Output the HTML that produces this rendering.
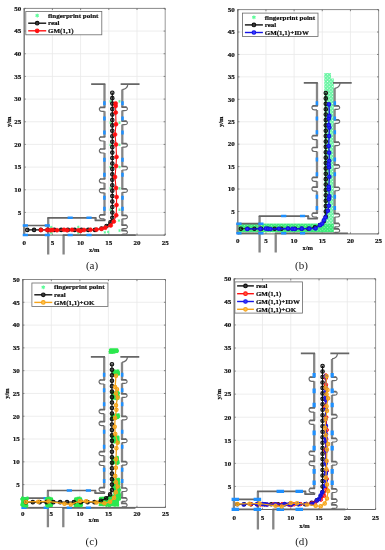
<!DOCTYPE html>
<html lang="en"><head><meta charset="utf-8"><title>Trajectory comparison</title>
<style>html,body{margin:0;padding:0;background:#fff}body{width:385px;height:550px;overflow:hidden}svg{display:block}.g{filter:blur(0.35px)}.b{font-weight:bold;stroke:#111;stroke-width:0.2px}text{font-family:"Liberation Serif","DejaVu Serif",serif}</style>
</head><body>
<svg width="385" height="550" viewBox="0 0 385 550">
<rect width="385" height="550" fill="#fff"/>
<g id="plot-a">
<g class="g">
<rect x="24.2" y="8.4" width="141" height="226.7" fill="#fff"/>
<path d="M52.4 8.4V235.1M80.6 8.4V235.1M108.8 8.4V235.1M137 8.4V235.1M24.2 31.07H165.2M24.2 53.74H165.2M24.2 76.41H165.2M24.2 99.08H165.2M24.2 121.75H165.2M24.2 144.42H165.2M24.2 167.09H165.2M24.2 189.76H165.2M24.2 212.43H165.2" stroke="#e8e8e8" stroke-width="0.8" fill="none"/>
<path d="M165.2 8.4V235.1" fill="none" stroke="#8c8c8c" stroke-width="0.9"/>
<path d="M24.2 8.4H165.2" fill="none" stroke="#6a6a6a" stroke-width="0.8"/>
<path d="M24.2 235.1H165.2" fill="none" stroke="#555" stroke-width="0.9"/>
<path d="M24.2 8V235.5" fill="none" stroke="#767676" stroke-width="1.4"/>
<path d="M24.2 235.1v-1.6M24.2 8.4v1.6M52.4 235.1v-1.6M52.4 8.4v1.6M80.6 235.1v-1.6M80.6 8.4v1.6M108.8 235.1v-1.6M108.8 8.4v1.6M137 235.1v-1.6M137 8.4v1.6M165.2 235.1v-1.6M165.2 8.4v1.6M24.2 8.4h1.6M165.2 8.4h-1.6M24.2 31.07h1.6M165.2 31.07h-1.6M24.2 53.74h1.6M165.2 53.74h-1.6M24.2 76.41h1.6M165.2 76.41h-1.6M24.2 99.08h1.6M165.2 99.08h-1.6M24.2 121.75h1.6M165.2 121.75h-1.6M24.2 144.42h1.6M165.2 144.42h-1.6M24.2 167.09h1.6M165.2 167.09h-1.6M24.2 189.76h1.6M165.2 189.76h-1.6M24.2 212.43h1.6M165.2 212.43h-1.6M24.2 235.1h1.6M165.2 235.1h-1.6" stroke="#6a6a6a" stroke-width="0.8" fill="none"/>
<path d="M24.2 235.1L24.2 225.5M48.2 217.8L48.2 254.5M63.6 235.1L63.6 254.5M95.6 217.8L95.6 220.4M104.5 84.2L104.5 107.3M104.5 111.3L104.5 137M104.5 141L104.5 149M104.5 153L104.5 179M104.5 183L104.5 188.8M104.5 192.8L104.5 214.9M104.5 218.9L104.5 220.4M122.3 89.6L122.3 107.2M122.3 110.6L122.3 121.2M122.3 124.6L122.3 143.6M122.3 147L122.3 166.5M122.3 169.9L122.3 188.9M122.3 192.3L122.3 215.3M122.3 218.7L122.3 225.2M122.3 228.6L122.3 230.7M122.3 234.1L122.3 235.1" fill="none" stroke="#868686" stroke-width="2.3" stroke-linecap="butt"/>
<path d="M24.2 225.5L48.2 225.5M24.2 235.1L48.2 235.1M63.6 235.1L134.9 235.1M48.2 217.8L95.6 217.8M95.6 220.4L104.5 220.4M92 84.2L104.5 84.2M121.5 84.2L138.7 84.2M104.5 107.3L100.9 107.3M104.5 137L100.9 137M104.5 149L100.9 149M104.5 179L100.9 179M104.5 188.8L100.9 188.8M104.5 214.9L100.9 214.9M122.3 107.2L125.7 107.2M122.3 121.2L125.7 121.2M122.3 143.6L125.7 143.6M122.3 166.5L125.7 166.5M122.3 188.9L125.7 188.9M122.3 215.3L125.7 215.3M122.3 225.2L125.7 225.2M122.3 230.7L125.7 230.7" fill="none" stroke="#666" stroke-width="1.7" stroke-linecap="square"/>
<path d="M127.8 84.2Q127.6 88.8 122.3 89.6M101.1 107.3Q98.9 107.5 99.5 109.8Q99.9 111.3 101.9 111.3L104.5 111.3M101.1 137Q98.9 137.2 99.5 139.5Q99.9 141 101.9 141L104.5 141M101.1 149Q98.9 149.2 99.5 151.5Q99.9 153 101.9 153L104.5 153M101.1 179Q98.9 179.2 99.5 181.5Q99.9 183 101.9 183L104.5 183M101.1 188.8Q98.9 189 99.5 191.3Q99.9 192.8 101.9 192.8L104.5 192.8M101.1 214.9Q98.9 215.1 99.5 217.4Q99.9 218.9 101.9 218.9L104.5 218.9M125.5 107.2Q127.8 107.4 127.3 109.4Q126.9 110.7 124.9 110.7L122.3 110.7M125.5 121.2Q127.8 121.4 127.3 123.4Q126.9 124.7 124.9 124.7L122.3 124.7M125.5 143.6Q127.8 143.8 127.3 145.8Q126.9 147.1 124.9 147.1L122.3 147.1M125.5 166.5Q127.8 166.7 127.3 168.7Q126.9 170 124.9 170L122.3 170M125.5 188.9Q127.8 189.1 127.3 191.1Q126.9 192.4 124.9 192.4L122.3 192.4M125.5 215.3Q127.8 215.5 127.3 217.5Q126.9 218.8 124.9 218.8L122.3 218.8M125.5 225.2Q127.8 225.4 127.3 227.4Q126.9 228.7 124.9 228.7L122.3 228.7M125.5 230.7Q127.8 230.9 127.3 232.9Q126.9 234.2 124.9 234.2L122.3 234.2" fill="none" stroke="#6a6a6a" stroke-width="1.2" stroke-linecap="butt" stroke-linejoin="round"/>
<path d="M104.4 101.16v4M122.5 101.16v4M104.4 116.58v4M122.5 116.58v4M104.4 130.4v4M122.5 130.4v4M104.4 157.84v4M122.5 157.84v4M104.4 172.8v4M122.5 172.8v4M104.4 195.65v4M122.5 195.65v4M104.4 206.8v4M122.5 206.8v4M22.73 225.5h5.2M44.72 225.5h5.2M22.73 235.1h5.2M44.72 235.1h5.2M67.57 235.1h5.2M86.46 235.1h5.2M67.57 217.8h5.2M86.46 217.8h5.2" fill="none" stroke="#1e90ff" stroke-width="2.5" stroke-linecap="butt"/>
<path d="M119.52 100.05L119.52 102.65M118.39 100.7L120.64 102M118.39 102L120.64 100.7M119.52 121.36L119.52 123.96M118.39 122.01L120.64 123.31M118.39 123.31L120.64 122.01M119.52 143.57L119.52 146.17M118.39 144.22L120.64 145.52M118.39 145.52L120.64 144.22M119.52 165.79L119.52 168.39M118.39 166.44L120.64 167.74M118.39 167.74L120.64 166.44M119.52 187.1L119.52 189.7M118.39 187.75L120.64 189.05M118.39 189.05L120.64 187.75M119.52 208.41L119.52 211.01M118.39 209.06L120.64 210.36M118.39 210.36L120.64 209.06M110.49 100.05L110.49 102.65M109.37 100.7L111.62 102M109.37 102L111.62 100.7M110.49 121.36L110.49 123.96M109.37 122.01L111.62 123.31M109.37 123.31L111.62 122.01M110.49 143.57L110.49 146.17M109.37 144.22L111.62 145.52M109.37 145.52L111.62 144.22M110.49 165.79L110.49 168.39M109.37 166.44L111.62 167.74M109.37 167.74L111.62 166.44M110.49 187.1L110.49 189.7M109.37 187.75L111.62 189.05M109.37 189.05L111.62 187.75M110.49 208.41L110.49 211.01M109.37 209.06L111.62 210.36M109.37 210.36L111.62 209.06M51.27 225.87L51.27 228.47M50.15 226.52L52.4 227.82M50.15 227.82L52.4 226.52M78.34 225.64L78.34 228.24M77.22 226.29L79.47 227.59M77.22 227.59L79.47 226.29M51.27 231.53L51.27 234.13M50.15 232.18L52.4 233.48M50.15 233.48L52.4 232.18M78.34 231.53L78.34 234.13M77.22 232.18L79.47 233.48M77.22 233.48L79.47 232.18M104.85 231.08L104.85 233.68M103.73 231.73L105.98 233.03M103.73 233.03L105.98 231.73M108.24 230.63L108.24 233.23M107.11 231.28L109.36 232.58M107.11 232.58L109.36 231.28M119.52 229.27L119.52 231.87M118.39 229.92L120.64 231.22M118.39 231.22L120.64 229.92M118.95 219.29L118.95 221.89M117.83 219.94L120.08 221.24M117.83 221.24L120.08 219.94" stroke="#5dfc9a" stroke-width="0.9" fill="none"/>
<path d="M27.3 229.89L34.07 229.89L40.84 229.89L47.61 229.89L54.37 229.89L61.14 229.89L67.91 229.89L74.68 229.89L81.45 229.89L88.21 229.89L94.98 229.89L101.47 228.53L106.54 226.03L110.49 222.18L112.3 217.87L112.3 212.43L112.3 206.99L112.3 201.55L112.3 196.11L112.3 190.67L112.3 185.23L112.3 179.79L112.3 174.34L112.3 168.9L112.3 163.46L112.3 158.02L112.3 152.58L112.3 147.14L112.3 141.7L112.3 136.26L112.3 130.82L112.3 125.38L112.3 119.94L112.3 114.5L112.3 109.05L112.3 103.61L112.3 98.17L112.3 92.73" fill="none" stroke="#111" stroke-width="1.1" stroke-linejoin="round"/>
<g fill="rgba(0,0,0,0.45)" stroke="#111" stroke-width="1.1">
<circle cx="27.3" cy="229.89" r="1.75"/>
<circle cx="34.07" cy="229.89" r="1.75"/>
<circle cx="40.84" cy="229.89" r="1.75"/>
<circle cx="47.61" cy="229.89" r="1.75"/>
<circle cx="54.37" cy="229.89" r="1.75"/>
<circle cx="61.14" cy="229.89" r="1.75"/>
<circle cx="67.91" cy="229.89" r="1.75"/>
<circle cx="74.68" cy="229.89" r="1.75"/>
<circle cx="81.45" cy="229.89" r="1.75"/>
<circle cx="88.21" cy="229.89" r="1.75"/>
<circle cx="94.98" cy="229.89" r="1.75"/>
<circle cx="101.47" cy="228.53" r="1.75"/>
<circle cx="106.54" cy="226.03" r="1.75"/>
<circle cx="110.49" cy="222.18" r="1.75"/>
<circle cx="112.3" cy="217.87" r="1.75"/>
<circle cx="112.3" cy="212.43" r="1.75"/>
<circle cx="112.3" cy="206.99" r="1.75"/>
<circle cx="112.3" cy="201.55" r="1.75"/>
<circle cx="112.3" cy="196.11" r="1.75"/>
<circle cx="112.3" cy="190.67" r="1.75"/>
<circle cx="112.3" cy="185.23" r="1.75"/>
<circle cx="112.3" cy="179.79" r="1.75"/>
<circle cx="112.3" cy="174.34" r="1.75"/>
<circle cx="112.3" cy="168.9" r="1.75"/>
<circle cx="112.3" cy="163.46" r="1.75"/>
<circle cx="112.3" cy="158.02" r="1.75"/>
<circle cx="112.3" cy="152.58" r="1.75"/>
<circle cx="112.3" cy="147.14" r="1.75"/>
<circle cx="112.3" cy="141.7" r="1.75"/>
<circle cx="112.3" cy="136.26" r="1.75"/>
<circle cx="112.3" cy="130.82" r="1.75"/>
<circle cx="112.3" cy="125.38" r="1.75"/>
<circle cx="112.3" cy="119.94" r="1.75"/>
<circle cx="112.3" cy="114.5" r="1.75"/>
<circle cx="112.3" cy="109.05" r="1.75"/>
<circle cx="112.3" cy="103.61" r="1.75"/>
<circle cx="112.3" cy="98.17" r="1.75"/>
<circle cx="112.3" cy="92.73" r="1.75"/>
</g>
<path d="M40.9 230L47.3 230L50.5 230.2L52.5 230L57 230.2L64 229.8L67 230.2L72 229.8L78.5 230.3L80.5 230.9L84 230L90.5 229.8L96.5 229.6L101.5 228.9L105.3 227.7L110.7 225.4L113.8 221.5L116.2 215.3L116.5 205L116.6 197L116 188L115 177L116 166L116.5 156.9L116 144.5L115 134.5L116 124.2L115.7 112.5L115.6 106L115.6 103.4" fill="none" stroke="#ff1010" stroke-width="1.1" stroke-linejoin="round"/>
<g fill="#ff1010" stroke="#ff1010" stroke-width="0.6">
<circle cx="40.9" cy="230" r="2"/>
<circle cx="47.3" cy="230" r="2"/>
<circle cx="50.5" cy="230.2" r="2"/>
<circle cx="52.5" cy="230" r="2"/>
<circle cx="57" cy="230.2" r="2"/>
<circle cx="64" cy="229.8" r="2"/>
<circle cx="67" cy="230.2" r="2"/>
<circle cx="72" cy="229.8" r="2"/>
<circle cx="78.5" cy="230.3" r="2"/>
<circle cx="80.5" cy="230.9" r="2"/>
<circle cx="84" cy="230" r="2"/>
<circle cx="90.5" cy="229.8" r="2"/>
<circle cx="96.5" cy="229.6" r="2"/>
<circle cx="101.5" cy="228.9" r="2"/>
<circle cx="105.3" cy="227.7" r="2"/>
<circle cx="110.7" cy="225.4" r="2"/>
<circle cx="113.8" cy="221.5" r="2"/>
<circle cx="116.2" cy="215.3" r="2"/>
<circle cx="116.5" cy="205" r="2"/>
<circle cx="116.6" cy="197" r="2"/>
<circle cx="116" cy="188" r="2"/>
<circle cx="115" cy="177" r="2"/>
<circle cx="116" cy="166" r="2"/>
<circle cx="116.5" cy="156.9" r="2"/>
<circle cx="116" cy="144.5" r="2"/>
<circle cx="115" cy="134.5" r="2"/>
<circle cx="116" cy="124.2" r="2"/>
<circle cx="115.7" cy="112.5" r="2"/>
<circle cx="115.6" cy="106" r="2"/>
<circle cx="115.6" cy="103.4" r="2"/>
</g>
</g>
<g class="b" font-size="7" fill="#111">
<text x="24.2" y="244.5" text-anchor="middle">0</text>
<text x="52.4" y="244.5" text-anchor="middle">5</text>
<text x="80.6" y="244.5" text-anchor="middle">10</text>
<text x="108.8" y="244.5" text-anchor="middle">15</text>
<text x="137" y="244.5" text-anchor="middle">20</text>
<text x="165.2" y="244.5" text-anchor="middle">25</text>
<text x="21.2" y="10.7" text-anchor="end">50</text>
<text x="21.2" y="33.37" text-anchor="end">45</text>
<text x="21.2" y="56.04" text-anchor="end">40</text>
<text x="21.2" y="78.71" text-anchor="end">35</text>
<text x="21.2" y="101.38" text-anchor="end">30</text>
<text x="21.2" y="124.05" text-anchor="end">25</text>
<text x="21.2" y="146.72" text-anchor="end">20</text>
<text x="21.2" y="169.39" text-anchor="end">15</text>
<text x="21.2" y="192.06" text-anchor="end">10</text>
<text x="21.2" y="214.73" text-anchor="end">5</text>
</g>
<text x="94.2" y="251.7" text-anchor="middle" class="b" font-size="6.5" fill="#111">x/m</text>
<text transform="translate(10.9 121.75) rotate(-90)" text-anchor="middle" class="b" font-size="6.5" fill="#111">y/m</text>
</g>
<g id="plot-b">
<g class="g">
<rect x="237.8" y="9.6" width="140.8" height="224.3" fill="#fff"/>
<path d="M265.96 9.6V233.9M294.12 9.6V233.9M322.28 9.6V233.9M350.44 9.6V233.9M237.8 32.03H378.6M237.8 54.46H378.6M237.8 76.89H378.6M237.8 99.32H378.6M237.8 121.75H378.6M237.8 144.18H378.6M237.8 166.61H378.6M237.8 189.04H378.6M237.8 211.47H378.6" stroke="#e8e8e8" stroke-width="0.8" fill="none"/>
<path d="M378.6 9.6V233.9" fill="none" stroke="#8c8c8c" stroke-width="0.9"/>
<path d="M237.8 9.6H378.6" fill="none" stroke="#6a6a6a" stroke-width="0.8"/>
<path d="M237.8 233.9H378.6" fill="none" stroke="#555" stroke-width="0.9"/>
<path d="M237.8 9.2V234.3" fill="none" stroke="#767676" stroke-width="1.4"/>
<path d="M237.8 233.9v-1.6M237.8 9.6v1.6M265.96 233.9v-1.6M265.96 9.6v1.6M294.12 233.9v-1.6M294.12 9.6v1.6M322.28 233.9v-1.6M322.28 9.6v1.6M350.44 233.9v-1.6M350.44 9.6v1.6M378.6 233.9v-1.6M378.6 9.6v1.6M237.8 9.6h1.6M378.6 9.6h-1.6M237.8 32.03h1.6M378.6 32.03h-1.6M237.8 54.46h1.6M378.6 54.46h-1.6M237.8 76.89h1.6M378.6 76.89h-1.6M237.8 99.32h1.6M378.6 99.32h-1.6M237.8 121.75h1.6M378.6 121.75h-1.6M237.8 144.18h1.6M378.6 144.18h-1.6M237.8 166.61h1.6M378.6 166.61h-1.6M237.8 189.04h1.6M378.6 189.04h-1.6M237.8 211.47h1.6M378.6 211.47h-1.6M237.8 233.9h1.6M378.6 233.9h-1.6" stroke="#6a6a6a" stroke-width="0.8" fill="none"/>
<defs><pattern id="fpv" width="2.4" height="2.4" patternUnits="userSpaceOnUse" patternTransform="rotate(45)"><rect width="2.4" height="2.4" fill="#6af5a4"/><circle cx="1.2" cy="1.2" r="0.55" fill="#f2fff6"/></pattern><pattern id="fph" width="2.4" height="2.4" patternUnits="userSpaceOnUse" patternTransform="rotate(45)"><rect width="2.4" height="2.4" fill="#3aea78"/><circle cx="1.2" cy="1.2" r="0.5" fill="#b5f8cf"/></pattern></defs>
<rect x="324.25" y="73.08" width="6.76" height="150.51" fill="url(#fpv)"/>
<rect x="331.01" y="78.46" width="2.82" height="145.12" fill="url(#fpv)"/>
<rect x="237.8" y="223.58" width="96.03" height="8.75" fill="url(#fph)"/>
<path d="M237.51 233.26L237.51 223.7M259.59 216.03L259.59 252.58M275.72 233.26L275.72 252.58M308.19 216.03L308.19 218.62M317 82.96L317 105.97M317 109.95L317 135.55M317 139.54L317 147.5M317 151.49L317 177.38M317 181.37L317 187.14M317 191.13L317 213.14M317 217.12L317 218.62M334.63 88.34L334.63 105.87M334.63 109.26L334.63 119.82M334.63 123.2L334.63 142.13M334.63 145.51L334.63 164.93M334.63 168.32L334.63 187.24M334.63 190.63L334.63 213.54M334.63 216.93L334.63 223.4M334.63 226.79L334.63 228.88M334.63 232.26L334.63 233.26" fill="none" stroke="#868686" stroke-width="2.3" stroke-linecap="butt"/>
<path d="M237.51 223.7L259.59 223.7M237.51 233.26L259.59 233.26M275.72 233.26L347.1 233.26M259.59 216.03L308.19 216.03M308.19 218.62L317 218.62M304.63 82.96L317 82.96M333.84 82.96L350.86 82.96M317 105.97L313.44 105.97M317 135.55L313.44 135.55M317 147.5L313.44 147.5M317 177.38L313.44 177.38M317 187.14L313.44 187.14M317 213.14L313.44 213.14M334.63 105.87L337.99 105.87M334.63 119.82L337.99 119.82M334.63 142.13L337.99 142.13M334.63 164.93L337.99 164.93M334.63 187.24L337.99 187.24M334.63 213.54L337.99 213.54M334.63 223.4L337.99 223.4M334.63 228.88L337.99 228.88" fill="none" stroke="#666" stroke-width="1.7" stroke-linecap="square"/>
<path d="M340.07 82.96Q339.87 87.54 334.63 88.34M313.64 105.97Q311.46 106.17 312.06 108.46Q312.45 109.95 314.43 109.95L317 109.95M313.64 135.55Q311.46 135.75 312.06 138.04Q312.45 139.54 314.43 139.54L317 139.54M313.64 147.5Q311.46 147.7 312.06 149.99Q312.45 151.49 314.43 151.49L317 151.49M313.64 177.38Q311.46 177.58 312.06 179.87Q312.45 181.37 314.43 181.37L317 181.37M313.64 187.14Q311.46 187.34 312.06 189.63Q312.45 191.13 314.43 191.13L317 191.13M313.64 213.14Q311.46 213.34 312.06 215.63Q312.45 217.12 314.43 217.12L317 217.12M337.8 105.87Q340.07 106.07 339.58 108.06Q339.18 109.36 337.2 109.36L334.63 109.36M337.8 119.82Q340.07 120.01 339.58 122.01Q339.18 123.3 337.2 123.3L334.63 123.3M337.8 142.13Q340.07 142.32 339.58 144.32Q339.18 145.61 337.2 145.61L334.63 145.61M337.8 164.93Q340.07 165.13 339.58 167.13Q339.18 168.42 337.2 168.42L334.63 168.42M337.8 187.24Q340.07 187.44 339.58 189.44Q339.18 190.73 337.2 190.73L334.63 190.73M337.8 213.54Q340.07 213.74 339.58 215.73Q339.18 217.02 337.2 217.02L334.63 217.02M337.8 223.4Q340.07 223.6 339.58 225.59Q339.18 226.89 337.2 226.89L334.63 226.89M337.8 228.88Q340.07 229.08 339.58 231.07Q339.18 232.36 337.2 232.36L334.63 232.36" fill="none" stroke="#6a6a6a" stroke-width="1.2" stroke-linecap="butt" stroke-linejoin="round"/>
<path d="M316.91 101.36v4M334.83 101.36v4M316.91 116.61v4M334.83 116.61v4M316.91 130.29v4M334.83 130.29v4M316.91 157.43v4M334.83 157.43v4M316.91 172.24v4M334.83 172.24v4M316.91 194.85v4M334.83 194.85v4M316.91 205.88v4M334.83 205.88v4M236.33 223.7h5.2M258.29 223.7h5.2M236.33 233.26h5.2M258.29 233.26h5.2M281.1 233.26h5.2M299.97 233.26h5.2M281.1 216.03h5.2M299.97 216.03h5.2" fill="none" stroke="#1e90ff" stroke-width="2.5" stroke-linecap="butt"/>
<path d="M240.9 228.74L247.66 228.74L254.41 228.74L261.17 228.74L267.93 228.74L274.69 228.74L281.45 228.74L288.21 228.74L294.96 228.74L301.72 228.74L308.48 228.74L314.96 227.4L320.03 224.93L323.97 221.11L325.77 216.85L325.77 211.47L325.77 206.09L325.77 200.7L325.77 195.32L325.77 189.94L325.77 184.55L325.77 179.17L325.77 173.79L325.77 168.4L325.77 163.02L325.77 157.64L325.77 152.25L325.77 146.87L325.77 141.49L325.77 136.11L325.77 130.72L325.77 125.34L325.77 119.96L325.77 114.57L325.77 109.19L325.77 103.81L325.77 98.42L325.77 93.04" fill="none" stroke="#111" stroke-width="1.1" stroke-linejoin="round"/>
<g fill="rgba(0,0,0,0.45)" stroke="#111" stroke-width="1.1">
<circle cx="240.9" cy="228.74" r="1.75"/>
<circle cx="247.66" cy="228.74" r="1.75"/>
<circle cx="254.41" cy="228.74" r="1.75"/>
<circle cx="261.17" cy="228.74" r="1.75"/>
<circle cx="267.93" cy="228.74" r="1.75"/>
<circle cx="274.69" cy="228.74" r="1.75"/>
<circle cx="281.45" cy="228.74" r="1.75"/>
<circle cx="288.21" cy="228.74" r="1.75"/>
<circle cx="294.96" cy="228.74" r="1.75"/>
<circle cx="301.72" cy="228.74" r="1.75"/>
<circle cx="308.48" cy="228.74" r="1.75"/>
<circle cx="314.96" cy="227.4" r="1.75"/>
<circle cx="320.03" cy="224.93" r="1.75"/>
<circle cx="323.97" cy="221.11" r="1.75"/>
<circle cx="325.77" cy="216.85" r="1.75"/>
<circle cx="325.77" cy="211.47" r="1.75"/>
<circle cx="325.77" cy="206.09" r="1.75"/>
<circle cx="325.77" cy="200.7" r="1.75"/>
<circle cx="325.77" cy="195.32" r="1.75"/>
<circle cx="325.77" cy="189.94" r="1.75"/>
<circle cx="325.77" cy="184.55" r="1.75"/>
<circle cx="325.77" cy="179.17" r="1.75"/>
<circle cx="325.77" cy="173.79" r="1.75"/>
<circle cx="325.77" cy="168.4" r="1.75"/>
<circle cx="325.77" cy="163.02" r="1.75"/>
<circle cx="325.77" cy="157.64" r="1.75"/>
<circle cx="325.77" cy="152.25" r="1.75"/>
<circle cx="325.77" cy="146.87" r="1.75"/>
<circle cx="325.77" cy="141.49" r="1.75"/>
<circle cx="325.77" cy="136.11" r="1.75"/>
<circle cx="325.77" cy="130.72" r="1.75"/>
<circle cx="325.77" cy="125.34" r="1.75"/>
<circle cx="325.77" cy="119.96" r="1.75"/>
<circle cx="325.77" cy="114.57" r="1.75"/>
<circle cx="325.77" cy="109.19" r="1.75"/>
<circle cx="325.77" cy="103.81" r="1.75"/>
<circle cx="325.77" cy="98.42" r="1.75"/>
<circle cx="325.77" cy="93.04" r="1.75"/>
</g>
<path d="M247.21 228.96L260.33 228.86L265.96 228.6L268.21 228.85L270.47 228.96L278.91 228.72L287.92 228.52L292.43 228.91L294.68 228.94L301.72 228.63L309.33 228.65L315.52 228.43L320.03 225.15L322.28 223.58L323.86 220.22L325.43 217.48L327.91 210.8L328.87 205.82L329.04 199L329.36 196.4L328.83 189.22L328.85 186.8L329.37 176.7L329.01 167.28L328.73 164.37L329.26 160.78L329.2 152.7L328.71 145.97L329.09 136.11L329.34 127.58L328.79 125.11L328.9 118.39L329.37 115.92L328.96 104.39" fill="none" stroke="#1414e6" stroke-width="1.4" stroke-linejoin="round"/>
<g fill="#2a2aff" stroke="#1414e6" stroke-width="1.2">
<circle cx="247.21" cy="228.96" r="1.7"/>
<circle cx="260.33" cy="228.86" r="1.7"/>
<circle cx="265.96" cy="228.6" r="1.7"/>
<circle cx="268.21" cy="228.85" r="1.7"/>
<circle cx="270.47" cy="228.96" r="1.7"/>
<circle cx="278.91" cy="228.72" r="1.7"/>
<circle cx="287.92" cy="228.52" r="1.7"/>
<circle cx="292.43" cy="228.91" r="1.7"/>
<circle cx="294.68" cy="228.94" r="1.7"/>
<circle cx="301.72" cy="228.63" r="1.7"/>
<circle cx="309.33" cy="228.65" r="1.7"/>
<circle cx="315.52" cy="228.43" r="1.7"/>
<circle cx="320.03" cy="225.15" r="1.7"/>
<circle cx="322.28" cy="223.58" r="1.7"/>
<circle cx="323.86" cy="220.22" r="1.7"/>
<circle cx="325.43" cy="217.48" r="1.7"/>
<circle cx="327.91" cy="210.8" r="1.7"/>
<circle cx="328.87" cy="205.82" r="1.7"/>
<circle cx="329.04" cy="199" r="1.7"/>
<circle cx="329.36" cy="196.4" r="1.7"/>
<circle cx="328.83" cy="189.22" r="1.7"/>
<circle cx="328.85" cy="186.8" r="1.7"/>
<circle cx="329.37" cy="176.7" r="1.7"/>
<circle cx="329.01" cy="167.28" r="1.7"/>
<circle cx="328.73" cy="164.37" r="1.7"/>
<circle cx="329.26" cy="160.78" r="1.7"/>
<circle cx="329.2" cy="152.7" r="1.7"/>
<circle cx="328.71" cy="145.97" r="1.7"/>
<circle cx="329.09" cy="136.11" r="1.7"/>
<circle cx="329.34" cy="127.58" r="1.7"/>
<circle cx="328.79" cy="125.11" r="1.7"/>
<circle cx="328.9" cy="118.39" r="1.7"/>
<circle cx="329.37" cy="115.92" r="1.7"/>
<circle cx="328.96" cy="104.39" r="1.7"/>
</g>
</g>
<g class="b" font-size="7" fill="#111">
<text x="237.8" y="242.7" text-anchor="middle">0</text>
<text x="265.96" y="242.7" text-anchor="middle">5</text>
<text x="294.12" y="242.7" text-anchor="middle">10</text>
<text x="322.28" y="242.7" text-anchor="middle">15</text>
<text x="350.44" y="242.7" text-anchor="middle">20</text>
<text x="378.6" y="242.7" text-anchor="middle">25</text>
<text x="234.8" y="11.9" text-anchor="end">50</text>
<text x="234.8" y="34.33" text-anchor="end">45</text>
<text x="234.8" y="56.76" text-anchor="end">40</text>
<text x="234.8" y="79.19" text-anchor="end">35</text>
<text x="234.8" y="101.62" text-anchor="end">30</text>
<text x="234.8" y="124.05" text-anchor="end">25</text>
<text x="234.8" y="146.48" text-anchor="end">20</text>
<text x="234.8" y="168.91" text-anchor="end">15</text>
<text x="234.8" y="191.34" text-anchor="end">10</text>
<text x="234.8" y="213.77" text-anchor="end">5</text>
</g>
<text x="307.7" y="249.7" text-anchor="middle" class="b" font-size="6.5" fill="#111">x/m</text>
<text transform="translate(223 121.75) rotate(-90)" text-anchor="middle" class="b" font-size="6.5" fill="#111">y/m</text>
</g>
<g id="plot-c">
<g class="g">
<rect x="22.8" y="279.5" width="142.7" height="227.9" fill="#fff"/>
<path d="M51.34 279.5V507.4M79.88 279.5V507.4M108.42 279.5V507.4M136.96 279.5V507.4M22.8 302.29H165.5M22.8 325.08H165.5M22.8 347.87H165.5M22.8 370.66H165.5M22.8 393.45H165.5M22.8 416.24H165.5M22.8 439.03H165.5M22.8 461.82H165.5M22.8 484.61H165.5" stroke="#e8e8e8" stroke-width="0.8" fill="none"/>
<path d="M165.5 279.5V507.4" fill="none" stroke="#8c8c8c" stroke-width="0.9"/>
<path d="M22.8 279.5H165.5" fill="none" stroke="#6a6a6a" stroke-width="0.8"/>
<path d="M22.8 507.4H165.5" fill="none" stroke="#555" stroke-width="0.9"/>
<path d="M22.8 279.1V507.8" fill="none" stroke="#767676" stroke-width="1.4"/>
<path d="M22.8 507.4v-1.6M22.8 279.5v1.6M51.34 507.4v-1.6M51.34 279.5v1.6M79.88 507.4v-1.6M79.88 279.5v1.6M108.42 507.4v-1.6M108.42 279.5v1.6M136.96 507.4v-1.6M136.96 279.5v1.6M165.5 507.4v-1.6M165.5 279.5v1.6M22.8 279.5h1.6M165.5 279.5h-1.6M22.8 302.29h1.6M165.5 302.29h-1.6M22.8 325.08h1.6M165.5 325.08h-1.6M22.8 347.87h1.6M165.5 347.87h-1.6M22.8 370.66h1.6M165.5 370.66h-1.6M22.8 393.45h1.6M165.5 393.45h-1.6M22.8 416.24h1.6M165.5 416.24h-1.6M22.8 439.03h1.6M165.5 439.03h-1.6M22.8 461.82h1.6M165.5 461.82h-1.6M22.8 484.61h1.6M165.5 484.61h-1.6M22.8 507.4h1.6M165.5 507.4h-1.6" stroke="#6a6a6a" stroke-width="0.8" fill="none"/>
<path d="M23.9 507.8L23.9 498.2M47.9 490.5L47.9 527.2M63.3 507.8L63.3 527.2M95.3 490.5L95.3 493.1M104.2 356.9L104.2 380M104.2 384L104.2 409.7M104.2 413.7L104.2 421.7M104.2 425.7L104.2 451.7M104.2 455.7L104.2 461.5M104.2 465.5L104.2 487.6M104.2 491.6L104.2 493.1M122 362.3L122 379.9M122 383.3L122 393.9M122 397.3L122 416.3M122 419.7L122 439.2M122 442.6L122 461.6M122 465L122 488M122 491.4L122 497.9M122 501.3L122 503.4M122 506.8L122 507.8" fill="none" stroke="#868686" stroke-width="2.3" stroke-linecap="butt"/>
<path d="M23.9 498.2L47.9 498.2M23.9 507.8L47.9 507.8M63.3 507.8L134.6 507.8M47.9 490.5L95.3 490.5M95.3 493.1L104.2 493.1M91.7 356.9L104.2 356.9M121.2 356.9L138.4 356.9M104.2 380L100.6 380M104.2 409.7L100.6 409.7M104.2 421.7L100.6 421.7M104.2 451.7L100.6 451.7M104.2 461.5L100.6 461.5M104.2 487.6L100.6 487.6M122 379.9L125.4 379.9M122 393.9L125.4 393.9M122 416.3L125.4 416.3M122 439.2L125.4 439.2M122 461.6L125.4 461.6M122 488L125.4 488M122 497.9L125.4 497.9M122 503.4L125.4 503.4" fill="none" stroke="#666" stroke-width="1.7" stroke-linecap="square"/>
<path d="M127.5 356.9Q127.3 361.5 122 362.3M100.8 380Q98.6 380.2 99.2 382.5Q99.6 384 101.6 384L104.2 384M100.8 409.7Q98.6 409.9 99.2 412.2Q99.6 413.7 101.6 413.7L104.2 413.7M100.8 421.7Q98.6 421.9 99.2 424.2Q99.6 425.7 101.6 425.7L104.2 425.7M100.8 451.7Q98.6 451.9 99.2 454.2Q99.6 455.7 101.6 455.7L104.2 455.7M100.8 461.5Q98.6 461.7 99.2 464Q99.6 465.5 101.6 465.5L104.2 465.5M100.8 487.6Q98.6 487.8 99.2 490.1Q99.6 491.6 101.6 491.6L104.2 491.6M125.2 379.9Q127.5 380.1 127 382.1Q126.6 383.4 124.6 383.4L122 383.4M125.2 393.9Q127.5 394.1 127 396.1Q126.6 397.4 124.6 397.4L122 397.4M125.2 416.3Q127.5 416.5 127 418.5Q126.6 419.8 124.6 419.8L122 419.8M125.2 439.2Q127.5 439.4 127 441.4Q126.6 442.7 124.6 442.7L122 442.7M125.2 461.6Q127.5 461.8 127 463.8Q126.6 465.1 124.6 465.1L122 465.1M125.2 488Q127.5 488.2 127 490.2Q126.6 491.5 124.6 491.5L122 491.5M125.2 497.9Q127.5 498.1 127 500.1Q126.6 501.4 124.6 501.4L122 501.4M125.2 503.4Q127.5 503.6 127 505.6Q126.6 506.9 124.6 506.9L122 506.9" fill="none" stroke="#6a6a6a" stroke-width="1.2" stroke-linecap="butt" stroke-linejoin="round"/>
<path d="M104.1 372.76v4M122.2 372.76v4M104.1 388.26v4M122.2 388.26v4M104.1 402.16v4M122.2 402.16v4M104.1 429.74v4M122.2 429.74v4M104.1 444.78v4M122.2 444.78v4M104.1 467.75v4M122.2 467.75v4M104.1 478.96v4M122.2 478.96v4M21.34 498.2h5.2M43.6 498.2h5.2M21.34 507.8h5.2M43.6 507.8h5.2M66.72 507.8h5.2M85.84 507.8h5.2M66.72 490.5h5.2M85.84 490.5h5.2" fill="none" stroke="#1e90ff" stroke-width="2.5" stroke-linecap="butt"/>
<rect x="109.26" y="348.25" width="9.16" height="4.7" rx="1.2" fill="#2be84e"/>
<rect x="112.4" y="370.13" width="6.88" height="4.7" rx="1.2" fill="#2be84e"/>
<rect x="111.26" y="391.55" width="8.02" height="7.89" rx="1.2" fill="#2be84e"/>
<rect x="111.26" y="413.84" width="8.02" height="5.16" rx="1.2" fill="#2be84e"/>
<rect x="111.54" y="435.49" width="8.02" height="7.44" rx="1.2" fill="#2be84e"/>
<rect x="111.54" y="456.73" width="7.45" height="7.44" rx="1.2" fill="#2be84e"/>
<rect x="112.4" y="478.38" width="7.45" height="10.63" rx="1.2" fill="#2be84e"/>
<rect x="21.07" y="497.3" width="6.88" height="9.72" rx="1.2" fill="#2be84e"/>
<rect x="45.62" y="497.3" width="7.45" height="9.72" rx="1.2" fill="#2be84e"/>
<rect x="74.16" y="497.3" width="8.02" height="9.72" rx="1.2" fill="#2be84e"/>
<rect x="98.99" y="496.84" width="12.02" height="9.26" rx="1.2" fill="#2be84e"/>
<rect x="108.12" y="494.79" width="10.87" height="11.54" rx="1.2" fill="#2be84e"/>
<rect x="113.54" y="485.22" width="6.88" height="15.19" rx="1.2" fill="#2be84e"/>
<path d="M112.33 351.28L112.33 353.28M111.47 351.78L113.2 352.78M111.47 352.78L113.2 351.78M110.75 349.46L110.75 351.46M109.89 349.96L111.62 350.96M109.89 350.96L111.62 349.96M112.69 351.6L112.69 353.6M111.83 352.1L113.56 353.1M111.83 353.1L113.56 352.1M110.8 349.88L110.8 351.88M109.93 350.38L111.66 351.38M109.93 351.38L111.66 350.38M110.16 351.38L110.16 353.38M109.29 351.88L111.03 352.88M109.29 352.88L111.03 351.88M109.78 351.15L109.78 353.15M108.92 351.65L110.65 352.65M108.92 352.65L110.65 351.65M111.47 351.4L111.47 353.4M110.61 351.9L112.34 352.9M110.61 352.9L112.34 351.9M116.9 350.75L116.9 352.75M116.04 351.25L117.77 352.25M116.04 352.25L117.77 351.25M114.33 351.22L114.33 353.22M113.46 351.72L115.19 352.72M113.46 352.72L115.19 351.72M110.15 349.31L110.15 351.31M109.29 349.81L111.02 350.81M109.29 350.81L111.02 349.81M114.36 351.1L114.36 353.1M113.49 351.6L115.22 352.6M113.49 352.6L115.22 351.6M110.37 349.41L110.37 351.41M109.5 349.91L111.23 350.91M109.5 350.91L111.23 349.91M110.1 351.42L110.1 353.42M109.23 351.92L110.97 352.92M109.23 352.92L110.97 351.92M117.71 349.9L117.71 351.9M116.85 350.4L118.58 351.4M116.85 351.4L118.58 350.4M114.67 369.82L114.67 371.82M113.81 370.32L115.54 371.32M113.81 371.32L115.54 370.32M112.89 370.67L112.89 372.67M112.03 371.17L113.76 372.17M112.03 372.17L113.76 371.17M114.23 369.72L114.23 371.72M113.37 370.22L115.1 371.22M113.37 371.22L115.1 370.22M118.72 372.35L118.72 374.35M117.86 372.85L119.59 373.85M117.86 373.85L119.59 372.85M118.86 373.23L118.86 375.23M117.99 373.73L119.72 374.73M117.99 374.73L119.72 373.73M112.93 372.91L112.93 374.91M112.06 373.41L113.8 374.41M112.06 374.41L113.8 373.41M115.77 373.51L115.77 375.51M114.91 374.01L116.64 375.01M114.91 375.01L116.64 374.01M112.92 371.18L112.92 373.18M112.06 371.68L113.79 372.68M112.06 372.68L113.79 371.68M118.2 369.84L118.2 371.84M117.33 370.34L119.06 371.34M117.33 371.34L119.06 370.34M118.6 371.16L118.6 373.16M117.73 371.66L119.46 372.66M117.73 372.66L119.46 371.66M115.57 373.5L115.57 375.5M114.7 374L116.43 375M114.7 375L116.43 374M118.69 373.27L118.69 375.27M117.83 373.77L119.56 374.77M117.83 374.77L119.56 373.77M117.29 369.65L117.29 371.65M116.43 370.15L118.16 371.15M116.43 371.15L118.16 370.15M118.31 371.95L118.31 373.95M117.44 372.45L119.17 373.45M117.44 373.45L119.17 372.45M116.52 398.08L116.52 400.08M115.66 398.58L117.39 399.58M115.66 399.58L117.39 398.58M118.05 397.29L118.05 399.29M117.19 397.79L118.92 398.79M117.19 398.79L118.92 397.79M112 391.81L112 393.81M111.13 392.31L112.86 393.31M111.13 393.31L112.86 392.31M112.23 391.46L112.23 393.46M111.36 391.96L113.1 392.96M111.36 392.96L113.1 391.96M115.24 397.54L115.24 399.54M114.38 398.04L116.11 399.04M114.38 399.04L116.11 398.04M118.85 392.17L118.85 394.17M117.98 392.67L119.72 393.67M117.98 393.67L119.72 392.67M117.97 391.18L117.97 393.18M117.1 391.68L118.84 392.68M117.1 392.68L118.84 391.68M118.63 395.37L118.63 397.37M117.76 395.87L119.49 396.87M117.76 396.87L119.49 395.87M113.27 397.25L113.27 399.25M112.41 397.75L114.14 398.75M112.41 398.75L114.14 397.75M111.94 398.06L111.94 400.06M111.07 398.56L112.81 399.56M111.07 399.56L112.81 398.56M117.73 397.34L117.73 399.34M116.86 397.84L118.59 398.84M116.86 398.84L118.59 397.84M112.51 394.25L112.51 396.25M111.64 394.75L113.38 395.75M111.64 395.75L113.38 394.75M116.08 390.91L116.08 392.91M115.22 391.41L116.95 392.41M115.22 392.41L116.95 391.41M112.16 391.8L112.16 393.8M111.3 392.3L113.03 393.3M111.3 393.3L113.03 392.3M118.62 413.55L118.62 415.55M117.76 414.05L119.49 415.05M117.76 415.05L119.49 414.05M117.98 414.81L117.98 416.81M117.12 415.31L118.85 416.31M117.12 416.31L118.85 415.31M112.02 417.69L112.02 419.69M111.16 418.19L112.89 419.19M111.16 419.19L112.89 418.19M118.05 416.15L118.05 418.15M117.18 416.65L118.91 417.65M117.18 417.65L118.91 416.65M111.95 417.41L111.95 419.41M111.08 417.91L112.82 418.91M111.08 418.91L112.82 417.91M111.62 414.9L111.62 416.9M110.75 415.4L112.48 416.4M110.75 416.4L112.48 415.4M112.08 417.44L112.08 419.44M111.22 417.94L112.95 418.94M111.22 418.94L112.95 417.94M111.97 413.35L111.97 415.35M111.1 413.85L112.83 414.85M111.1 414.85L112.83 413.85M116.03 413.74L116.03 415.74M115.16 414.24L116.89 415.24M115.16 415.24L116.89 414.24M118.97 415.58L118.97 417.58M118.11 416.08L119.84 417.08M118.11 417.08L119.84 416.08M115.15 417.12L115.15 419.12M114.28 417.62L116.02 418.62M114.28 418.62L116.02 417.62M118.69 415.52L118.69 417.52M117.82 416.02L119.56 417.02M117.82 417.02L119.56 416.02M116.69 417.16L116.69 419.16M115.83 417.66L117.56 418.66M115.83 418.66L117.56 417.66M118.03 415.23L118.03 417.23M117.16 415.73L118.9 416.73M117.16 416.73L118.9 415.73M112.05 434.82L112.05 436.82M111.18 435.32L112.91 436.32M111.18 436.32L112.91 435.32M112.18 439.85L112.18 441.85M111.32 440.35L113.05 441.35M111.32 441.35L113.05 440.35M114.57 440.97L114.57 442.97M113.7 441.47L115.43 442.47M113.7 442.47L115.43 441.47M112.37 436.3L112.37 438.3M111.5 436.8L113.23 437.8M111.5 437.8L113.23 436.8M114.29 441.23L114.29 443.23M113.43 441.73L115.16 442.73M113.43 442.73L115.16 441.73M112.06 436.04L112.06 438.04M111.19 436.54L112.93 437.54M111.19 437.54L112.93 436.54M117.33 440.81L117.33 442.81M116.47 441.31L118.2 442.31M116.47 442.31L118.2 441.31M118.55 441.43L118.55 443.43M117.68 441.93L119.41 442.93M117.68 442.93L119.41 441.93M112.05 435.34L112.05 437.34M111.19 435.84L112.92 436.84M111.19 436.84L112.92 435.84M112.19 435.09L112.19 437.09M111.32 435.59L113.05 436.59M111.32 436.59L113.05 435.59M115.16 434.84L115.16 436.84M114.3 435.34L116.03 436.34M114.3 436.34L116.03 435.34M118.24 440.93L118.24 442.93M117.38 441.43L119.11 442.43M117.38 442.43L119.11 441.43M115.33 435.61L115.33 437.61M114.47 436.11L116.2 437.11M114.47 437.11L116.2 436.11M112.42 437.17L112.42 439.17M111.56 437.67L113.29 438.67M111.56 438.67L113.29 437.67M117.32 462.7L117.32 464.7M116.46 463.2L118.19 464.2M116.46 464.2L118.19 463.2M111.94 457.52L111.94 459.52M111.07 458.02L112.8 459.02M111.07 459.02L112.8 458.02M116.98 456.15L116.98 458.15M116.12 456.65L117.85 457.65M116.12 457.65L117.85 456.65M118.48 460.6L118.48 462.6M117.61 461.1L119.34 462.1M117.61 462.1L119.34 461.1M117.33 456.58L117.33 458.58M116.46 457.08L118.2 458.08M116.46 458.08L118.2 457.08M112.13 461.71L112.13 463.71M111.26 462.21L112.99 463.21M111.26 463.21L112.99 462.21M112.71 462.45L112.71 464.45M111.85 462.95L113.58 463.95M111.85 463.95L113.58 462.95M118.5 461.87L118.5 463.87M117.63 462.37L119.36 463.37M117.63 463.37L119.36 462.37M117.51 456.39L117.51 458.39M116.64 456.89L118.37 457.89M116.64 457.89L118.37 456.89M117.83 459.12L117.83 461.12M116.96 459.62L118.69 460.62M116.96 460.62L118.69 459.62M111.99 462.39L111.99 464.39M111.13 462.89L112.86 463.89M111.13 463.89L112.86 462.89M112.43 456.91L112.43 458.91M111.56 457.41L113.29 458.41M111.56 458.41L113.29 457.41M117.5 461.87L117.5 463.87M116.64 462.37L118.37 463.37M116.64 463.37L118.37 462.37M112.57 461.23L112.57 463.23M111.71 461.73L113.44 462.73M111.71 462.73L113.44 461.73M116.72 478.37L116.72 480.37M115.85 478.87L117.58 479.87M115.85 479.87L117.58 478.87M113.67 480.29L113.67 482.29M112.8 480.79L114.53 481.79M112.8 481.79L114.53 480.79M118.85 477.94L118.85 479.94M117.98 478.44L119.72 479.44M117.98 479.44L119.72 478.44M113.18 482.46L113.18 484.46M112.32 482.96L114.05 483.96M112.32 483.96L114.05 482.96M112.83 478.02L112.83 480.02M111.96 478.52L113.7 479.52M111.96 479.52L113.7 478.52M112.93 486.21L112.93 488.21M112.07 486.71L113.8 487.71M112.07 487.71L113.8 486.71M113.67 487.05L113.67 489.05M112.8 487.55L114.54 488.55M112.8 488.55L114.54 487.55M119.22 482.39L119.22 484.39M118.36 482.89L120.09 483.89M118.36 483.89L120.09 482.89M116.01 487.54L116.01 489.54M115.14 488.04L116.87 489.04M115.14 489.04L116.87 488.04M113.47 484.94L113.47 486.94M112.61 485.44L114.34 486.44M112.61 486.44L114.34 485.44M117.99 478.34L117.99 480.34M117.12 478.84L118.86 479.84M117.12 479.84L118.86 478.84M113.27 481.57L113.27 483.57M112.41 482.07L114.14 483.07M112.41 483.07L114.14 482.07M116.16 487.25L116.16 489.25M115.3 487.75L117.03 488.75M115.3 488.75L117.03 487.75M119.05 479.62L119.05 481.62M118.18 480.12L119.91 481.12M118.18 481.12L119.91 480.12M24.56 505.31L24.56 507.31M23.7 505.81L25.43 506.81M23.7 506.81L25.43 505.81M27.58 497.58L27.58 499.58M26.71 498.08L28.45 499.08M26.71 499.08L28.45 498.08M22.65 497.78L22.65 499.78M21.78 498.28L23.51 499.28M21.78 499.28L23.51 498.28M21.95 502.84L21.95 504.84M21.08 503.34L22.81 504.34M21.08 504.34L22.81 503.34M25.59 497.87L25.59 499.87M24.72 498.37L26.45 499.37M24.72 499.37L26.45 498.37M27.45 497.54L27.45 499.54M26.58 498.04L28.31 499.04M26.58 499.04L28.31 498.04M22.34 497.77L22.34 499.77M21.48 498.27L23.21 499.27M21.48 499.27L23.21 498.27M21.4 503.71L21.4 505.71M20.54 504.21L22.27 505.21M20.54 505.21L22.27 504.21M27.35 496.76L27.35 498.76M26.49 497.26L28.22 498.26M26.49 498.26L28.22 497.26M21.38 498.13L21.38 500.13M20.52 498.63L22.25 499.63M20.52 499.63L22.25 498.63M22.39 496.61L22.39 498.61M21.52 497.11L23.25 498.11M21.52 498.11L23.25 497.11M27.03 503.93L27.03 505.93M26.16 504.43L27.9 505.43M26.16 505.43L27.9 504.43M23.37 497.94L23.37 499.94M22.51 498.44L24.24 499.44M22.51 499.44L24.24 498.44M27.12 505.55L27.12 507.55M26.26 506.05L27.99 507.05M26.26 507.05L27.99 506.05M48.19 497.27L48.19 499.27M47.32 497.77L49.05 498.77M47.32 498.77L49.05 497.77M46.83 497.34L46.83 499.34M45.96 497.84L47.69 498.84M45.96 498.84L47.69 497.84M47.48 504.46L47.48 506.46M46.62 504.96L48.35 505.96M46.62 505.96L48.35 504.96M51.78 498.61L51.78 500.61M50.91 499.11L52.65 500.11M50.91 500.11L52.65 499.11M47.77 505.47L47.77 507.47M46.9 505.97L48.64 506.97M46.9 506.97L48.64 505.97M52.16 500.82L52.16 502.82M51.29 501.32L53.02 502.32M51.29 502.32L53.02 501.32M49.44 497.01L49.44 499.01M48.58 497.51L50.31 498.51M48.58 498.51L50.31 497.51M46.66 498.43L46.66 500.43M45.79 498.93L47.52 499.93M45.79 499.93L47.52 498.93M47.17 504.72L47.17 506.72M46.31 505.22L48.04 506.22M46.31 506.22L48.04 505.22M46.29 498.41L46.29 500.41M45.43 498.91L47.16 499.91M45.43 499.91L47.16 498.91M46.49 504.44L46.49 506.44M45.62 504.94L47.36 505.94M45.62 505.94L47.36 504.94M46.48 502.62L46.48 504.62M45.61 503.12L47.34 504.12M45.61 504.12L47.34 503.12M49.71 497.12L49.71 499.12M48.84 497.62L50.57 498.62M48.84 498.62L50.57 497.62M46.4 503.54L46.4 505.54M45.54 504.04L47.27 505.04M45.54 505.04L47.27 504.04M75.27 504.71L75.27 506.71M74.4 505.21L76.14 506.21M74.4 506.21L76.14 505.21M75.35 502.87L75.35 504.87M74.48 503.37L76.21 504.37M74.48 504.37L76.21 503.37M76.72 504.75L76.72 506.75M75.85 505.25L77.59 506.25M75.85 506.25L77.59 505.25M75.27 498.39L75.27 500.39M74.4 498.89L76.14 499.89M74.4 499.89L76.14 498.89M81.84 504.37L81.84 506.37M80.97 504.87L82.7 505.87M80.97 505.87L82.7 504.87M75 503.48L75 505.48M74.13 503.98L75.86 504.98M74.13 504.98L75.86 503.98M77.77 497.07L77.77 499.07M76.91 497.57L78.64 498.57M76.91 498.57L78.64 497.57M81.84 502.91L81.84 504.91M80.98 503.41L82.71 504.41M80.98 504.41L82.71 503.41M76.05 504.82L76.05 506.82M75.19 505.32L76.92 506.32M75.19 506.32L76.92 505.32M75.12 502.55L75.12 504.55M74.25 503.05L75.99 504.05M74.25 504.05L75.99 503.05M74.86 504.37L74.86 506.37M73.99 504.87L75.73 505.87M73.99 505.87L75.73 504.87M81.24 505.21L81.24 507.21M80.38 505.71L82.11 506.71M80.38 506.71L82.11 505.71M79.39 496.78L79.39 498.78M78.53 497.28L80.26 498.28M78.53 498.28L80.26 497.28M81.43 499.4L81.43 501.4M80.57 499.9L82.3 500.9M80.57 500.9L82.3 499.9M99.8 503.71L99.8 505.71M98.94 504.21L100.67 505.21M98.94 505.21L100.67 504.21M109 501.65L109 503.65M108.13 502.15L109.86 503.15M108.13 503.15L109.86 502.15M103.04 497.13L103.04 499.13M102.18 497.63L103.91 498.63M102.18 498.63L103.91 497.63M109.36 503.22L109.36 505.22M108.5 503.72L110.23 504.72M108.5 504.72L110.23 503.72M103.12 504.12L103.12 506.12M102.25 504.62L103.98 505.62M102.25 505.62L103.98 504.62M100.57 498.08L100.57 500.08M99.71 498.58L101.44 499.58M99.71 499.58L101.44 498.58M100.32 503.69L100.32 505.69M99.46 504.19L101.19 505.19M99.46 505.19L101.19 504.19M100.32 502.21L100.32 504.21M99.46 502.71L101.19 503.71M99.46 503.71L101.19 502.71M106.48 504.27L106.48 506.27M105.61 504.77L107.34 505.77M105.61 505.77L107.34 504.77M99.87 498.6L99.87 500.6M99.01 499.1L100.74 500.1M99.01 500.1L100.74 499.1M109.32 496.45L109.32 498.45M108.46 496.95L110.19 497.95M108.46 497.95L110.19 496.95M109.25 498.53L109.25 500.53M108.38 499.03L110.11 500.03M108.38 500.03L110.11 499.03M106.63 504.58L106.63 506.58M105.76 505.08L107.5 506.08M105.76 506.08L107.5 505.08M110.25 497.77L110.25 499.77M109.38 498.27L111.11 499.27M109.38 499.27L111.11 498.27M109.85 504.75L109.85 506.75M108.99 505.25L110.72 506.25M108.99 506.25L110.72 505.25M109.83 504.57L109.83 506.57M108.96 505.07L110.7 506.07M108.96 506.07L110.7 505.07M114.97 504.01L114.97 506.01M114.1 504.51L115.83 505.51M114.1 505.51L115.83 504.51M118.01 498.17L118.01 500.17M117.15 498.67L118.88 499.67M117.15 499.67L118.88 498.67M114.85 504.19L114.85 506.19M113.99 504.69L115.72 505.69M113.99 505.69L115.72 504.69M109.26 504.27L109.26 506.27M108.39 504.77L110.12 505.77M108.39 505.77L110.12 504.77M118 504.47L118 506.47M117.13 504.97L118.87 505.97M117.13 505.97L118.87 504.97M108.81 499.85L108.81 501.85M107.95 500.35L109.68 501.35M107.95 501.35L109.68 500.35M116.73 495.35L116.73 497.35M115.87 495.85L117.6 496.85M115.87 496.85L117.6 495.85M109.61 497.92L109.61 499.92M108.74 498.42L110.47 499.42M108.74 499.42L110.47 498.42M113.15 495.61L113.15 497.61M112.28 496.11L114.02 497.11M112.28 497.11L114.02 496.11M118.34 498.28L118.34 500.28M117.47 498.78L119.2 499.78M117.47 499.78L119.2 498.78M115.02 504.38L115.02 506.38M114.16 504.88L115.89 505.88M114.16 505.88L115.89 504.88M117.54 496.9L117.54 498.9M116.68 497.4L118.41 498.4M116.68 498.4L118.41 497.4M115.75 496.95L115.75 498.95M114.89 497.45L116.62 498.45M114.89 498.45L116.62 497.45M114.33 484.92L114.33 486.92M113.46 485.42L115.19 486.42M113.46 486.42L115.19 485.42M114.47 498.4L114.47 500.4M113.6 498.9L115.33 499.9M113.6 499.9L115.33 498.9M119.85 494.94L119.85 496.94M118.98 495.44L120.71 496.44M118.98 496.44L120.71 495.44M116.77 499.09L116.77 501.09M115.9 499.59L117.63 500.59M115.9 500.59L117.63 499.59M114.49 497.85L114.49 499.85M113.62 498.35L115.36 499.35M113.62 499.35L115.36 498.35M116.81 485.71L116.81 487.71M115.95 486.21L117.68 487.21M115.95 487.21L117.68 486.21M120.12 493.46L120.12 495.46M119.25 493.96L120.98 494.96M119.25 494.96L120.98 493.96M119.6 497.08L119.6 499.08M118.73 497.58L120.46 498.58M118.73 498.58L120.46 497.58M114.65 491.46L114.65 493.46M113.78 491.96L115.52 492.96M113.78 492.96L115.52 491.96M119.82 498.24L119.82 500.24M118.96 498.74L120.69 499.74M118.96 499.74L120.69 498.74M120.01 488.85L120.01 490.85M119.15 489.35L120.88 490.35M119.15 490.35L120.88 489.35M115.3 485.85L115.3 487.85M114.43 486.35L116.16 487.35M114.43 487.35L116.16 486.35M114.78 491.94L114.78 493.94M113.92 492.44L115.65 493.44M113.92 493.44L115.65 492.44" stroke="#2be84e" stroke-width="0.9" fill="none" stroke-linecap="round"/>
<path d="M25.94 502.16L32.79 502.16L39.64 502.16L46.49 502.16L53.34 502.16L60.19 502.16L67.04 502.16L73.89 502.16L80.74 502.16L87.59 502.16L94.44 502.16L101 500.79L106.14 498.28L110.13 494.41L111.96 490.08L111.96 484.61L111.96 479.14L111.96 473.67L111.96 468.2L111.96 462.73L111.96 457.26L111.96 451.79L111.96 446.32L111.96 440.85L111.96 435.38L111.96 429.91L111.96 424.44L111.96 418.97L111.96 413.51L111.96 408.04L111.96 402.57L111.96 397.1L111.96 391.63L111.96 386.16L111.96 380.69L111.96 375.22L111.96 369.75L111.96 364.28" fill="none" stroke="#111" stroke-width="1.1" stroke-linejoin="round"/>
<g fill="rgba(0,0,0,0.45)" stroke="#111" stroke-width="1.1">
<circle cx="25.94" cy="502.16" r="1.75"/>
<circle cx="32.79" cy="502.16" r="1.75"/>
<circle cx="39.64" cy="502.16" r="1.75"/>
<circle cx="46.49" cy="502.16" r="1.75"/>
<circle cx="53.34" cy="502.16" r="1.75"/>
<circle cx="60.19" cy="502.16" r="1.75"/>
<circle cx="67.04" cy="502.16" r="1.75"/>
<circle cx="73.89" cy="502.16" r="1.75"/>
<circle cx="80.74" cy="502.16" r="1.75"/>
<circle cx="87.59" cy="502.16" r="1.75"/>
<circle cx="94.44" cy="502.16" r="1.75"/>
<circle cx="101" cy="500.79" r="1.75"/>
<circle cx="106.14" cy="498.28" r="1.75"/>
<circle cx="110.13" cy="494.41" r="1.75"/>
<circle cx="111.96" cy="490.08" r="1.75"/>
<circle cx="111.96" cy="484.61" r="1.75"/>
<circle cx="111.96" cy="479.14" r="1.75"/>
<circle cx="111.96" cy="473.67" r="1.75"/>
<circle cx="111.96" cy="468.2" r="1.75"/>
<circle cx="111.96" cy="462.73" r="1.75"/>
<circle cx="111.96" cy="457.26" r="1.75"/>
<circle cx="111.96" cy="451.79" r="1.75"/>
<circle cx="111.96" cy="446.32" r="1.75"/>
<circle cx="111.96" cy="440.85" r="1.75"/>
<circle cx="111.96" cy="435.38" r="1.75"/>
<circle cx="111.96" cy="429.91" r="1.75"/>
<circle cx="111.96" cy="424.44" r="1.75"/>
<circle cx="111.96" cy="418.97" r="1.75"/>
<circle cx="111.96" cy="413.51" r="1.75"/>
<circle cx="111.96" cy="408.04" r="1.75"/>
<circle cx="111.96" cy="402.57" r="1.75"/>
<circle cx="111.96" cy="397.1" r="1.75"/>
<circle cx="111.96" cy="391.63" r="1.75"/>
<circle cx="111.96" cy="386.16" r="1.75"/>
<circle cx="111.96" cy="380.69" r="1.75"/>
<circle cx="111.96" cy="375.22" r="1.75"/>
<circle cx="111.96" cy="369.75" r="1.75"/>
<circle cx="111.96" cy="364.28" r="1.75"/>
</g>
<path d="M25.94 501.93L38.21 501.7L48.49 501.47L64.47 503.75L70.75 504.44L79.88 501.02L86.16 501.25L96.43 502.39L104.42 503.3L110.13 501.7L114.13 497.83L115.84 492.36L117.55 486.43L116.01 482.33L115.27 475.95L115.84 467.75L116.01 459.31L116.41 448.15L117.55 442.68L115.27 434.02L114.7 426.72L115.1 418.06L116.41 409.86L116.01 405.3L117.55 397.55L116.01 393.45L116.98 389.35L115.1 387.07L116.01 375.67" fill="none" stroke="#f5a31a" stroke-width="1.3" stroke-linejoin="round"/>
<g fill="rgba(250,170,30,0.55)" stroke="#f5a31a" stroke-width="1.1">
<circle cx="25.94" cy="501.93" r="1.7"/>
<circle cx="38.21" cy="501.7" r="1.7"/>
<circle cx="48.49" cy="501.47" r="1.7"/>
<circle cx="64.47" cy="503.75" r="1.7"/>
<circle cx="70.75" cy="504.44" r="1.7"/>
<circle cx="79.88" cy="501.02" r="1.7"/>
<circle cx="86.16" cy="501.25" r="1.7"/>
<circle cx="96.43" cy="502.39" r="1.7"/>
<circle cx="104.42" cy="503.3" r="1.7"/>
<circle cx="110.13" cy="501.7" r="1.7"/>
<circle cx="114.13" cy="497.83" r="1.7"/>
<circle cx="115.84" cy="492.36" r="1.7"/>
<circle cx="117.55" cy="486.43" r="1.7"/>
<circle cx="116.01" cy="482.33" r="1.7"/>
<circle cx="115.27" cy="475.95" r="1.7"/>
<circle cx="115.84" cy="467.75" r="1.7"/>
<circle cx="116.01" cy="459.31" r="1.7"/>
<circle cx="116.41" cy="448.15" r="1.7"/>
<circle cx="117.55" cy="442.68" r="1.7"/>
<circle cx="115.27" cy="434.02" r="1.7"/>
<circle cx="114.7" cy="426.72" r="1.7"/>
<circle cx="115.1" cy="418.06" r="1.7"/>
<circle cx="116.41" cy="409.86" r="1.7"/>
<circle cx="116.01" cy="405.3" r="1.7"/>
<circle cx="117.55" cy="397.55" r="1.7"/>
<circle cx="116.01" cy="393.45" r="1.7"/>
<circle cx="116.98" cy="389.35" r="1.7"/>
<circle cx="115.1" cy="387.07" r="1.7"/>
<circle cx="116.01" cy="375.67" r="1.7"/>
</g>
</g>
<g class="b" font-size="7" fill="#111">
<text x="22.8" y="516" text-anchor="middle">0</text>
<text x="51.34" y="516" text-anchor="middle">5</text>
<text x="79.88" y="516" text-anchor="middle">10</text>
<text x="108.42" y="516" text-anchor="middle">15</text>
<text x="136.96" y="516" text-anchor="middle">20</text>
<text x="165.5" y="516" text-anchor="middle">25</text>
<text x="19.8" y="281.8" text-anchor="end">50</text>
<text x="19.8" y="304.59" text-anchor="end">45</text>
<text x="19.8" y="327.38" text-anchor="end">40</text>
<text x="19.8" y="350.17" text-anchor="end">35</text>
<text x="19.8" y="372.96" text-anchor="end">30</text>
<text x="19.8" y="395.75" text-anchor="end">25</text>
<text x="19.8" y="418.54" text-anchor="end">20</text>
<text x="19.8" y="441.33" text-anchor="end">15</text>
<text x="19.8" y="464.12" text-anchor="end">10</text>
<text x="19.8" y="486.91" text-anchor="end">5</text>
</g>
<text x="93.65" y="522.4" text-anchor="middle" class="b" font-size="6.5" fill="#111">x/m</text>
<text transform="translate(9 393.45) rotate(-90)" text-anchor="middle" class="b" font-size="6.5" fill="#111">y/m</text>
</g>
<g id="plot-d">
<g class="g">
<rect x="234.2" y="278.8" width="141.4" height="230.7" fill="#fff"/>
<path d="M262.48 278.8V509.5M290.76 278.8V509.5M319.04 278.8V509.5M347.32 278.8V509.5M234.2 301.87H375.6M234.2 324.94H375.6M234.2 348.01H375.6M234.2 371.08H375.6M234.2 394.15H375.6M234.2 417.22H375.6M234.2 440.29H375.6M234.2 463.36H375.6M234.2 486.43H375.6" stroke="#e8e8e8" stroke-width="0.8" fill="none"/>
<path d="M375.6 278.8V509.5" fill="none" stroke="#8c8c8c" stroke-width="0.9"/>
<path d="M234.2 278.8H375.6" fill="none" stroke="#6a6a6a" stroke-width="0.8"/>
<path d="M234.2 509.5H375.6" fill="none" stroke="#555" stroke-width="0.9"/>
<path d="M234.2 278.4V509.9" fill="none" stroke="#767676" stroke-width="1.4"/>
<path d="M234.2 509.5v-1.6M234.2 278.8v1.6M262.48 509.5v-1.6M262.48 278.8v1.6M290.76 509.5v-1.6M290.76 278.8v1.6M319.04 509.5v-1.6M319.04 278.8v1.6M347.32 509.5v-1.6M347.32 278.8v1.6M375.6 509.5v-1.6M375.6 278.8v1.6M234.2 278.8h1.6M375.6 278.8h-1.6M234.2 301.87h1.6M375.6 301.87h-1.6M234.2 324.94h1.6M375.6 324.94h-1.6M234.2 348.01h1.6M375.6 348.01h-1.6M234.2 371.08h1.6M375.6 371.08h-1.6M234.2 394.15h1.6M375.6 394.15h-1.6M234.2 417.22h1.6M375.6 417.22h-1.6M234.2 440.29h1.6M375.6 440.29h-1.6M234.2 463.36h1.6M375.6 463.36h-1.6M234.2 486.43h1.6M375.6 486.43h-1.6M234.2 509.5h1.6M375.6 509.5h-1.6" stroke="#6a6a6a" stroke-width="0.8" fill="none"/>
<path d="M233.9 509.33L233.9 499.41M257.9 491.45L257.9 529.39M273.3 509.33L273.3 529.39M305.3 491.45L305.3 494.13M314.2 353.3L314.2 377.19M314.2 381.32L314.2 407.9M314.2 412.03L314.2 420.31M314.2 424.44L314.2 451.33M314.2 455.46L314.2 461.46M314.2 465.6L314.2 488.45M314.2 492.58L314.2 494.13M332 358.89L332 377.08M332 380.6L332 391.56M332 395.08L332 414.72M332 418.24L332 438.4M332 441.92L332 461.56M332 465.08L332 488.86M332 492.38L332 499.1M332 502.61L332 504.78M332 508.3L332 509.33" fill="none" stroke="#868686" stroke-width="2.3" stroke-linecap="butt"/>
<path d="M233.9 499.41L257.9 499.41M233.9 509.33L257.9 509.33M273.3 509.33L344.6 509.33M257.9 491.45L305.3 491.45M305.3 494.13L314.2 494.13M301.7 353.3L314.2 353.3M331.2 353.3L348.4 353.3M314.2 377.19L310.6 377.19M314.2 407.9L310.6 407.9M314.2 420.31L310.6 420.31M314.2 451.33L310.6 451.33M314.2 461.46L310.6 461.46M314.2 488.45L310.6 488.45M332 377.08L335.4 377.08M332 391.56L335.4 391.56M332 414.72L335.4 414.72M332 438.4L335.4 438.4M332 461.56L335.4 461.56M332 488.86L335.4 488.86M332 499.1L335.4 499.1M332 504.78L335.4 504.78" fill="none" stroke="#666" stroke-width="1.7" stroke-linecap="square"/>
<path d="M337.5 353.3Q337.3 358.06 332 358.89M310.8 377.19Q308.6 377.39 309.2 379.77Q309.6 381.32 311.6 381.32L314.2 381.32M310.8 407.9Q308.6 408.1 309.2 410.48Q309.6 412.03 311.6 412.03L314.2 412.03M310.8 420.31Q308.6 420.51 309.2 422.89Q309.6 424.44 311.6 424.44L314.2 424.44M310.8 451.33Q308.6 451.53 309.2 453.91Q309.6 455.46 311.6 455.46L314.2 455.46M310.8 461.46Q308.6 461.67 309.2 464.04Q309.6 465.6 311.6 465.6L314.2 465.6M310.8 488.45Q308.6 488.65 309.2 491.03Q309.6 492.58 311.6 492.58L314.2 492.58M335.2 377.08Q337.5 377.29 337 379.36Q336.6 380.7 334.6 380.7L332 380.7M335.2 391.56Q337.5 391.77 337 393.84Q336.6 395.18 334.6 395.18L332 395.18M335.2 414.72Q337.5 414.93 337 417Q336.6 418.34 334.6 418.34L332 418.34M335.2 438.4Q337.5 438.61 337 440.68Q336.6 442.02 334.6 442.02L332 442.02M335.2 461.56Q337.5 461.77 337 463.84Q336.6 465.18 334.6 465.18L332 465.18M335.2 488.86Q337.5 489.07 337 491.13Q336.6 492.48 334.6 492.48L332 492.48M335.2 499.1Q337.5 499.3 337 501.37Q336.6 502.72 334.6 502.72L332 502.72M335.2 504.78Q337.5 504.99 337 507.06Q336.6 508.4 334.6 508.4L332 508.4" fill="none" stroke="#6a6a6a" stroke-width="1.2" stroke-linecap="butt" stroke-linejoin="round"/>
<path d="M314.1 372.93v4.6M332.2 372.93v4.6M314.1 388.62v4.6M332.2 388.62v4.6M314.1 402.69v4.6M332.2 402.69v4.6M314.1 430.61v4.6M332.2 430.61v4.6M314.1 445.83v4.6M332.2 445.83v4.6M314.1 469.09v4.6M332.2 469.09v4.6M314.1 480.44v4.6M332.2 480.44v4.6M231.58 499.41h7.5M253.64 499.41h7.5M231.58 509.33h7.5M253.64 509.33h7.5M276.55 509.33h7.5M295.49 509.33h7.5M276.55 491.45h7.5M295.49 491.45h7.5" fill="none" stroke="#1e90ff" stroke-width="3.2" stroke-linecap="butt"/>
<path d="M237.31 504.19L244.1 504.19L250.89 504.19L257.67 504.19L264.46 504.19L271.25 504.19L278.03 504.19L284.82 504.19L291.61 504.19L298.4 504.19L305.18 504.19L311.69 502.81L316.78 500.27L320.74 496.35L322.55 491.97L322.55 486.49L322.55 481.01L322.55 475.54L322.55 470.06L322.55 464.58L322.55 459.11L322.55 453.63L322.55 448.15L322.55 442.68L322.55 437.2L322.55 431.72L322.55 426.25L322.55 420.77L322.55 415.29L322.55 409.82L322.55 404.34L322.55 398.86L322.55 393.39L322.55 387.91L322.55 382.43L322.55 376.96L322.55 371.48L322.55 366" fill="none" stroke="#111" stroke-width="1.1" stroke-linejoin="round"/>
<g fill="rgba(0,0,0,0.45)" stroke="#111" stroke-width="1.1">
<circle cx="237.31" cy="504.19" r="1.75"/>
<circle cx="244.1" cy="504.19" r="1.75"/>
<circle cx="250.89" cy="504.19" r="1.75"/>
<circle cx="257.67" cy="504.19" r="1.75"/>
<circle cx="264.46" cy="504.19" r="1.75"/>
<circle cx="271.25" cy="504.19" r="1.75"/>
<circle cx="278.03" cy="504.19" r="1.75"/>
<circle cx="284.82" cy="504.19" r="1.75"/>
<circle cx="291.61" cy="504.19" r="1.75"/>
<circle cx="298.4" cy="504.19" r="1.75"/>
<circle cx="305.18" cy="504.19" r="1.75"/>
<circle cx="311.69" cy="502.81" r="1.75"/>
<circle cx="316.78" cy="500.27" r="1.75"/>
<circle cx="320.74" cy="496.35" r="1.75"/>
<circle cx="322.55" cy="491.97" r="1.75"/>
<circle cx="322.55" cy="486.49" r="1.75"/>
<circle cx="322.55" cy="481.01" r="1.75"/>
<circle cx="322.55" cy="475.54" r="1.75"/>
<circle cx="322.55" cy="470.06" r="1.75"/>
<circle cx="322.55" cy="464.58" r="1.75"/>
<circle cx="322.55" cy="459.11" r="1.75"/>
<circle cx="322.55" cy="453.63" r="1.75"/>
<circle cx="322.55" cy="448.15" r="1.75"/>
<circle cx="322.55" cy="442.68" r="1.75"/>
<circle cx="322.55" cy="437.2" r="1.75"/>
<circle cx="322.55" cy="431.72" r="1.75"/>
<circle cx="322.55" cy="426.25" r="1.75"/>
<circle cx="322.55" cy="420.77" r="1.75"/>
<circle cx="322.55" cy="415.29" r="1.75"/>
<circle cx="322.55" cy="409.82" r="1.75"/>
<circle cx="322.55" cy="404.34" r="1.75"/>
<circle cx="322.55" cy="398.86" r="1.75"/>
<circle cx="322.55" cy="393.39" r="1.75"/>
<circle cx="322.55" cy="387.91" r="1.75"/>
<circle cx="322.55" cy="382.43" r="1.75"/>
<circle cx="322.55" cy="376.96" r="1.75"/>
<circle cx="322.55" cy="371.48" r="1.75"/>
<circle cx="322.55" cy="366" r="1.75"/>
</g>
<path d="M250.95 504.31L257.37 504.31L260.57 504.51L262.58 504.31L267.09 504.51L274.11 504.11L277.12 504.51L282.14 504.11L288.65 504.62L290.66 505.23L294.17 504.31L300.69 504.11L306.71 503.9L311.72 503.19L315.53 501.97L320.95 499.63L324.05 495.66L326.46 489.35L326.76 478.87L326.86 470.73L326.26 461.57L325.26 450.37L326.26 439.18L326.76 429.92L326.26 417.3L325.26 407.12L326.26 396.64L325.96 384.74L325.86 378.12L325.86 375.48" fill="none" stroke="#ff1010" stroke-width="1.1" stroke-linejoin="round"/>
<g fill="rgba(255,20,20,0.5)" stroke="#ff1010" stroke-width="1">
<circle cx="250.95" cy="504.31" r="1.7"/>
<circle cx="257.37" cy="504.31" r="1.7"/>
<circle cx="260.57" cy="504.51" r="1.7"/>
<circle cx="262.58" cy="504.31" r="1.7"/>
<circle cx="267.09" cy="504.51" r="1.7"/>
<circle cx="274.11" cy="504.11" r="1.7"/>
<circle cx="277.12" cy="504.51" r="1.7"/>
<circle cx="282.14" cy="504.11" r="1.7"/>
<circle cx="288.65" cy="504.62" r="1.7"/>
<circle cx="290.66" cy="505.23" r="1.7"/>
<circle cx="294.17" cy="504.31" r="1.7"/>
<circle cx="300.69" cy="504.11" r="1.7"/>
<circle cx="306.71" cy="503.9" r="1.7"/>
<circle cx="311.72" cy="503.19" r="1.7"/>
<circle cx="315.53" cy="501.97" r="1.7"/>
<circle cx="320.95" cy="499.63" r="1.7"/>
<circle cx="324.05" cy="495.66" r="1.7"/>
<circle cx="326.46" cy="489.35" r="1.7"/>
<circle cx="326.76" cy="478.87" r="1.7"/>
<circle cx="326.86" cy="470.73" r="1.7"/>
<circle cx="326.26" cy="461.57" r="1.7"/>
<circle cx="325.26" cy="450.37" r="1.7"/>
<circle cx="326.26" cy="439.18" r="1.7"/>
<circle cx="326.76" cy="429.92" r="1.7"/>
<circle cx="326.26" cy="417.3" r="1.7"/>
<circle cx="325.26" cy="407.12" r="1.7"/>
<circle cx="326.26" cy="396.64" r="1.7"/>
<circle cx="325.96" cy="384.74" r="1.7"/>
<circle cx="325.86" cy="378.12" r="1.7"/>
<circle cx="325.86" cy="375.48" r="1.7"/>
</g>
<path d="M243.65 504.41L256.82 504.32L262.48 504.04L264.74 504.3L267 504.42L275.49 504.17L284.54 503.96L289.06 504.36L291.33 504.4L298.4 504.08L306.03 504.1L312.25 503.87L316.78 500.5L319.04 498.89L320.62 495.43L322.21 492.61L324.7 485.74L325.66 480.62L325.83 473.6L326.15 470.93L325.62 463.54L325.64 461.05L326.16 450.67L325.8 440.98L325.52 437.98L326.05 434.29L325.99 425.99L325.49 419.07L325.88 408.91L326.13 400.15L325.58 397.61L325.68 390.69L326.16 388.15L325.75 376.29" fill="none" stroke="#1414e6" stroke-width="1.2" stroke-linejoin="round"/>
<g fill="rgba(20,20,240,0.5)" stroke="#1414e6" stroke-width="1.1">
<circle cx="243.65" cy="504.41" r="1.7"/>
<circle cx="256.82" cy="504.32" r="1.7"/>
<circle cx="262.48" cy="504.04" r="1.7"/>
<circle cx="264.74" cy="504.3" r="1.7"/>
<circle cx="267" cy="504.42" r="1.7"/>
<circle cx="275.49" cy="504.17" r="1.7"/>
<circle cx="284.54" cy="503.96" r="1.7"/>
<circle cx="289.06" cy="504.36" r="1.7"/>
<circle cx="291.33" cy="504.4" r="1.7"/>
<circle cx="298.4" cy="504.08" r="1.7"/>
<circle cx="306.03" cy="504.1" r="1.7"/>
<circle cx="312.25" cy="503.87" r="1.7"/>
<circle cx="316.78" cy="500.5" r="1.7"/>
<circle cx="319.04" cy="498.89" r="1.7"/>
<circle cx="320.62" cy="495.43" r="1.7"/>
<circle cx="322.21" cy="492.61" r="1.7"/>
<circle cx="324.7" cy="485.74" r="1.7"/>
<circle cx="325.66" cy="480.62" r="1.7"/>
<circle cx="325.83" cy="473.6" r="1.7"/>
<circle cx="326.15" cy="470.93" r="1.7"/>
<circle cx="325.62" cy="463.54" r="1.7"/>
<circle cx="325.64" cy="461.05" r="1.7"/>
<circle cx="326.16" cy="450.67" r="1.7"/>
<circle cx="325.8" cy="440.98" r="1.7"/>
<circle cx="325.52" cy="437.98" r="1.7"/>
<circle cx="326.05" cy="434.29" r="1.7"/>
<circle cx="325.99" cy="425.99" r="1.7"/>
<circle cx="325.49" cy="419.07" r="1.7"/>
<circle cx="325.88" cy="408.91" r="1.7"/>
<circle cx="326.13" cy="400.15" r="1.7"/>
<circle cx="325.58" cy="397.61" r="1.7"/>
<circle cx="325.68" cy="390.69" r="1.7"/>
<circle cx="326.16" cy="388.15" r="1.7"/>
<circle cx="325.75" cy="376.29" r="1.7"/>
</g>
<path d="M237.31 503.96L249.47 503.73L259.65 503.5L275.49 505.81L281.71 506.5L290.76 503.04L296.98 503.27L307.16 504.42L315.65 505.81L320.74 506.27L324.7 503.5L326.96 498.43L328.09 491.04L326.96 484.58L325.83 477.66L326.39 469.36L326.56 460.82L326.96 449.52L328.09 443.98L325.83 435.21L325.26 427.83L325.66 419.07L326.96 410.76L326.56 406.15L328.09 398.3L326.56 394.15L327.52 390L325.66 387.69L326.56 376.16" fill="none" stroke="#f5a31a" stroke-width="1.2" stroke-linejoin="round"/>
<g fill="rgba(250,170,30,0.5)" stroke="#f5a31a" stroke-width="1.1">
<circle cx="237.31" cy="503.96" r="1.7"/>
<circle cx="249.47" cy="503.73" r="1.7"/>
<circle cx="259.65" cy="503.5" r="1.7"/>
<circle cx="275.49" cy="505.81" r="1.7"/>
<circle cx="281.71" cy="506.5" r="1.7"/>
<circle cx="290.76" cy="503.04" r="1.7"/>
<circle cx="296.98" cy="503.27" r="1.7"/>
<circle cx="307.16" cy="504.42" r="1.7"/>
<circle cx="315.65" cy="505.81" r="1.7"/>
<circle cx="320.74" cy="506.27" r="1.7"/>
<circle cx="324.7" cy="503.5" r="1.7"/>
<circle cx="326.96" cy="498.43" r="1.7"/>
<circle cx="328.09" cy="491.04" r="1.7"/>
<circle cx="326.96" cy="484.58" r="1.7"/>
<circle cx="325.83" cy="477.66" r="1.7"/>
<circle cx="326.39" cy="469.36" r="1.7"/>
<circle cx="326.56" cy="460.82" r="1.7"/>
<circle cx="326.96" cy="449.52" r="1.7"/>
<circle cx="328.09" cy="443.98" r="1.7"/>
<circle cx="325.83" cy="435.21" r="1.7"/>
<circle cx="325.26" cy="427.83" r="1.7"/>
<circle cx="325.66" cy="419.07" r="1.7"/>
<circle cx="326.96" cy="410.76" r="1.7"/>
<circle cx="326.56" cy="406.15" r="1.7"/>
<circle cx="328.09" cy="398.3" r="1.7"/>
<circle cx="326.56" cy="394.15" r="1.7"/>
<circle cx="327.52" cy="390" r="1.7"/>
<circle cx="325.66" cy="387.69" r="1.7"/>
<circle cx="326.56" cy="376.16" r="1.7"/>
</g>
</g>
<g class="b" font-size="7" fill="#111">
<text x="234.2" y="520.4" text-anchor="middle">0</text>
<text x="262.48" y="520.4" text-anchor="middle">5</text>
<text x="290.76" y="520.4" text-anchor="middle">10</text>
<text x="319.04" y="520.4" text-anchor="middle">15</text>
<text x="347.32" y="520.4" text-anchor="middle">20</text>
<text x="375.6" y="520.4" text-anchor="middle">25</text>
<text x="231.2" y="281.1" text-anchor="end">50</text>
<text x="231.2" y="304.17" text-anchor="end">45</text>
<text x="231.2" y="327.24" text-anchor="end">40</text>
<text x="231.2" y="350.31" text-anchor="end">35</text>
<text x="231.2" y="373.38" text-anchor="end">30</text>
<text x="231.2" y="396.45" text-anchor="end">25</text>
<text x="231.2" y="419.52" text-anchor="end">20</text>
<text x="231.2" y="442.59" text-anchor="end">15</text>
<text x="231.2" y="465.66" text-anchor="end">10</text>
<text x="231.2" y="488.73" text-anchor="end">5</text>
</g>
<text x="304.4" y="527.5" text-anchor="middle" class="b" font-size="6.5" fill="#111">x/m</text>
<text transform="translate(221 394.15) rotate(-90)" text-anchor="middle" class="b" font-size="6.5" fill="#111">y/m</text>
</g>
<rect x="25.8" y="11.4" width="76" height="23.4" fill="#fff" stroke="#6a6a6a" stroke-width="0.8"/>
<path d="M37.2 14.1L37.2 17.1M35.9 14.85L38.5 16.35M35.9 16.35L38.5 14.85" stroke="#5dfc9a" stroke-width="1.1" fill="none" stroke-linecap="round"/>
<text class="b" x="48" y="17.85" font-size="7" fill="#111">fingerprint point</text>
<path d="M28.2 23.2h18" stroke="#111" stroke-width="1.4" fill="none"/>
<circle cx="37.2" cy="23.2" r="1.8" fill="#3a3a3a" stroke="#111" stroke-width="1.1"/>
<text class="b" x="48" y="25.45" font-size="7" fill="#111">real</text>
<path d="M28.2 30.8h18" stroke="#ff1010" stroke-width="1.4" fill="none"/>
<circle cx="37.2" cy="30.8" r="1.8" fill="#ff1010" stroke="#ff1010" stroke-width="1.1"/>
<text class="b" x="48" y="33.05" font-size="7" fill="#111">GM(1,1)</text>
<rect x="242.5" y="13.1" width="75.5" height="23.4" fill="#fff" stroke="#6a6a6a" stroke-width="0.8"/>
<path d="M253.9 15.8L253.9 18.8M252.6 16.55L255.2 18.05M252.6 18.05L255.2 16.55" stroke="#5dfc9a" stroke-width="1.1" fill="none" stroke-linecap="round"/>
<text class="b" x="264.7" y="19.55" font-size="7" fill="#111">fingerprint point</text>
<path d="M244.9 24.9h18" stroke="#111" stroke-width="1.4" fill="none"/>
<circle cx="253.9" cy="24.9" r="1.8" fill="#3a3a3a" stroke="#111" stroke-width="1.1"/>
<text class="b" x="264.7" y="27.15" font-size="7" fill="#111">real</text>
<path d="M244.9 32.5h18" stroke="#1414e6" stroke-width="1.4" fill="none"/>
<circle cx="253.9" cy="32.5" r="1.8" fill="#3a3aff" stroke="#1414e6" stroke-width="1.1"/>
<text class="b" x="264.7" y="34.75" font-size="7" fill="#111">GM(1,1)+IDW</text>
<rect x="31.9" y="283" width="76" height="23.4" fill="#fff" stroke="#6a6a6a" stroke-width="0.8"/>
<path d="M43.3 285.7L43.3 288.7M42 286.45L44.6 287.95M42 287.95L44.6 286.45" stroke="#5dfc9a" stroke-width="1.1" fill="none" stroke-linecap="round"/>
<text class="b" x="54.1" y="289.45" font-size="7" fill="#111">fingerprint point</text>
<path d="M34.3 294.8h18" stroke="#111" stroke-width="1.4" fill="none"/>
<circle cx="43.3" cy="294.8" r="1.8" fill="#3a3a3a" stroke="#111" stroke-width="1.1"/>
<text class="b" x="54.1" y="297.05" font-size="7" fill="#111">real</text>
<path d="M34.3 302.4h18" stroke="#f5a31a" stroke-width="1.4" fill="none"/>
<circle cx="43.3" cy="302.4" r="1.8" fill="#ffc24d" stroke="#f5a31a" stroke-width="1.1"/>
<text class="b" x="54.1" y="304.65" font-size="7" fill="#111">GM(1,1)+OK</text>
<rect x="234.9" y="281.9" width="67.5" height="31.2" fill="#fff" stroke="#6a6a6a" stroke-width="0.8"/>
<path d="M237.1 285.9h16.8" stroke="#111" stroke-width="1.4" fill="none"/>
<circle cx="245.5" cy="285.9" r="1.8" fill="#3a3a3a" stroke="#111" stroke-width="1.1"/>
<text class="b" x="255.9" y="288.15" font-size="7" fill="#111">real</text>
<path d="M237.1 293.7h16.8" stroke="#ff1010" stroke-width="1.4" fill="none"/>
<circle cx="245.5" cy="293.7" r="1.8" fill="#ff5a3a" stroke="#ff1010" stroke-width="1.1"/>
<text class="b" x="255.9" y="295.95" font-size="7" fill="#111">GM(1,1)</text>
<path d="M237.1 301.5h16.8" stroke="#1414e6" stroke-width="1.4" fill="none"/>
<circle cx="245.5" cy="301.5" r="1.8" fill="#3a3aff" stroke="#1414e6" stroke-width="1.1"/>
<text class="b" x="255.9" y="303.75" font-size="7" fill="#111">GM(1,1)+IDW</text>
<path d="M237.1 309.3h16.8" stroke="#f5a31a" stroke-width="1.4" fill="none"/>
<circle cx="245.5" cy="309.3" r="1.8" fill="#ffc24d" stroke="#f5a31a" stroke-width="1.1"/>
<text class="b" x="255.9" y="311.55" font-size="7" fill="#111">GM(1,1)+OK</text>
<g font-size="11" fill="#1a1a1a" text-anchor="middle">
<text x="92" y="269.3">(a)</text>
<text x="301.4" y="269">(b)</text>
<text x="91.7" y="544.6">(c)</text>
<text x="301.6" y="544.6">(d)</text>
</g>
</svg>
</body></html>
